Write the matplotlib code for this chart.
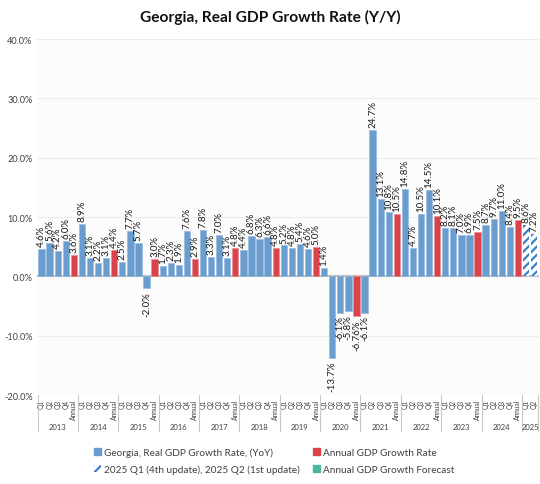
import matplotlib
matplotlib.use("Agg")
import matplotlib.pyplot as plt
from matplotlib.patches import Patch
import numpy as np

plt.rcParams['hatch.linewidth'] = 1.6
plt.rcParams['font.family'] = ['Lato', 'DejaVu Sans']

years = ["2013", "2014", "2015", "2016", "2017", "2018", "2019", "2020",
         "2021", "2022", "2023", "2024", "2025"]
periods = ["Q1", "Q2", "Q3", "Q4", "Annual"]

quarterly = {
    "2013": [4.6, 5.6, 4.2, 6.0],
    "2014": [8.9, 3.1, 2.2, 3.1],
    "2015": [2.5, 7.7, 5.7, -2.0],
    "2016": [1.7, 2.3, 1.9, 7.6],
    "2017": [7.8, 3.3, 7.0, 3.1],
    "2018": [4.4, 6.8, 6.3, 6.6],
    "2019": [5.2, 4.8, 5.4, 4.6],
    "2020": [1.4, -13.7, -6.1, -5.8],
    "2021": [-6.1, 24.7, 13.1, 10.8],
    "2022": [14.8, 4.7, 10.5, 14.5],
    "2023": [8.2, 8.1, 7.0, 6.9],
    "2024": [8.7, 9.7, 11.0, 8.4],
}
annual = {
    "2013": 3.6, "2014": 4.4, "2015": 3.0, "2016": 2.9, "2017": 4.8,
    "2018": 4.8, "2019": 5.0, "2020": -6.76, "2021": 10.5, "2022": 10.1,
    "2023": 7.5, "2024": 9.5,
}
annual_labels = {"2020": "-6.76%"}
prelim_2025 = [8.6, 7.2]
prelim_periods = ["Q1", "Q2"]

BLUE = "#6a9cce"
RED = "#d9444b"
TEAL = "#4db6a2"
HATCHBLUE = "#3d7fc6"

# Build the category sequence
values, kinds, cats, labels = [], [], [], []
groups = []
for y in years[:-1]:
    start = len(values)
    for q, v in zip(periods[:4], quarterly[y]):
        values.append(v); kinds.append("q"); cats.append(q); labels.append(f"{v:.1f}%")
    values.append(annual[y]); kinds.append("a"); cats.append("Annual")
    labels.append(annual_labels.get(y, f"{annual[y]:.1f}%"))
    groups.append((y, start, len(values) - 1))
start = len(values)
for q, v in zip(prelim_periods, prelim_2025):
    values.append(v); kinds.append("p"); cats.append(q); labels.append(f"{v:.1f}%")
groups.append((years[-1], start, len(values) - 1))

fig = plt.figure(figsize=(5.4, 4.85), dpi=100)
fig.patch.set_facecolor("white")
ax = fig.add_axes([0.068, 0.1835, 0.93, 0.734])
ax.set_facecolor("#fcfcfc")

x = np.arange(len(values))
for xi, v, k in zip(x, values, kinds):
    if k == "q":
        ax.bar(xi, v, width=0.78, color=BLUE, edgecolor="#8fb6de", linewidth=0.4, zorder=3)
    elif k == "a":
        ax.bar(xi, v, width=0.78, color=RED, edgecolor="#e88a8e", linewidth=0.4, zorder=3)
    else:
        ax.bar(xi, v, width=0.78, color="white", edgecolor=HATCHBLUE, hatch="////",
               linewidth=0, zorder=3)

for xi, v, lab in zip(x, values, labels):
    if v >= 0:
        ax.text(xi, v + 0.5, lab, rotation=90, ha="center", va="bottom",
                fontsize=7.0, color="#1a1a1a", zorder=4)
    else:
        ax.text(xi, v - 0.5, lab, rotation=90, ha="center", va="top",
                fontsize=7.0, color="#1a1a1a", zorder=4)

ax.set_ylim(-20, 40)
ax.set_xlim(-0.6, len(values) - 0.4)
ax.set_yticks(np.arange(-20, 41, 10))
ax.set_yticklabels([f"{t:.1f}%" for t in np.arange(-20, 41, 10)], fontsize=6.6, color="#404040")
ax.tick_params(axis="y", length=0, pad=3)
ax.grid(axis="y", color="#ececec", linewidth=0.8, zorder=0)
ax.axhline(0, color="#c0c0c0", linewidth=1.5, zorder=2)
for s in ax.spines.values():
    s.set_visible(False)

ax.set_xticks(x)
ax.set_xticklabels(cats, rotation=90, fontsize=4.8, color="#404040")
ax.tick_params(axis="x", length=0, pad=3)

# Group separators and year labels
trans = ax.get_xaxis_transform()
bounds = [g[1] - 0.5 for g in groups] + [groups[-1][2] + 0.5]
for b in bounds:
    ax.plot([b, b], [0, -0.10], transform=trans, color="#c8c8c8", linewidth=0.8,
            clip_on=False)
for name, s, e in groups:
    ax.text((s + e) / 2, -0.088, name, transform=trans, ha="center", va="center",
            fontsize=5.5, color="#404040")

fig.text(0.5, 0.963, "Georgia, Real GDP Growth Rate (Y/Y)", ha="center", va="center",
         fontsize=11.2, fontweight="bold", color="#111111")

h_blue = Patch(facecolor=BLUE, edgecolor=BLUE, label="Georgia, Real GDP Growth Rate, (YoY)")
h_red = Patch(facecolor=RED, edgecolor=RED, label="Annual GDP Growth Rate")
h_hatch = Patch(facecolor="white", edgecolor=HATCHBLUE, hatch="////", linewidth=0,
                label="2025 Q1 (4th update), 2025 Q2 (1st update)")
h_teal = Patch(facecolor=TEAL, edgecolor=TEAL, label="Annual GDP Growth Forecast")
leg_kw = dict(loc="center left", ncol=1, frameon=False, fontsize=7.2,
              handlelength=0.7, handleheight=0.7, handletextpad=0.3, labelspacing=0.8)
leg1 = fig.legend(handles=[h_blue, h_hatch], bbox_to_anchor=(0.158, 0.048), **leg_kw)
leg2 = fig.legend(handles=[h_red, h_teal], bbox_to_anchor=(0.563, 0.048), **leg_kw)
for leg in (leg1, leg2):
    for t in leg.get_texts():
        t.set_color("#404040")

fig.savefig("out.png", dpi=100, facecolor="white")
